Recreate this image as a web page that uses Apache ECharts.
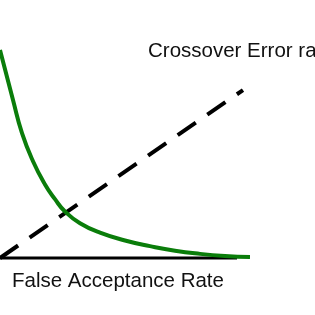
<!DOCTYPE html>
<html>
<head>
<meta charset="utf-8">
<script src="https://cdn.jsdelivr.net/npm/echarts@6/dist/echarts.min.js"></script>
<style>
  html, body { margin: 0; padding: 0; background: #fff; }
  #main { width: 315px; height: 315px; }
</style>
</head>
<body>
<div id="main"></div>
<script>
// false rejection rate curve (x: false acceptance %, y: error %)
const rejectCurve = [
  [0, 80.6], [5.2, 61.2], [8.8, 48.4], [13.2, 37.5], [18, 28.5], [22, 22.8],
  [26, 18.0], [32, 13.5], [40, 9.8], [50, 6.8], [60, 4.6], [70, 2.8],
  [80, 1.6], [90, 0.8], [100, 0.4]
];
// dashed crossover line
const crossoverLine = [[0, 0], [97.2, 65.1]];
// base line
const baseLine = [[0, 0], [94.8, 0]];

const topLabel = 'Crossover Error rate';
const bottomLabel = 'False Acceptance Rate';

const chart = echarts.init(document.getElementById('main'));
chart.setOption({
  animation: false,
  backgroundColor: '#fff',
  grid: { left: 0, right: 65, top: 0, bottom: 57 },
  xAxis: { type: 'value', min: 0, max: 100, show: false },
  yAxis: { type: 'value', min: 0, max: 100, show: false },
  graphic: [
    {
      type: 'text', left: 148, top: 41,
      style: { text: topLabel, font: '20.5px "Liberation Sans", Arial, sans-serif', fill: '#111' }
    },
    {
      type: 'text', left: 12, top: 271,
      style: { text: bottomLabel, font: '20.5px "Liberation Sans", Arial, sans-serif', fill: '#111' }
    }
  ],
  series: [
    {
      type: 'line', data: baseLine, symbol: 'none', clip: false, silent: true,
      lineStyle: { color: '#000', width: 3 }
    },
    {
      type: 'line', data: crossoverLine, symbol: 'none', clip: false, silent: true,
      lineStyle: { color: '#000', width: 4, type: [22, 14], cap: 'butt' }
    },
    {
      type: 'line', data: rejectCurve, symbol: 'none', smooth: true, clip: false, silent: true,
      lineStyle: { color: '#0a7d0a', width: 4 }
    }
  ]
});
</script>
</body>
</html>
